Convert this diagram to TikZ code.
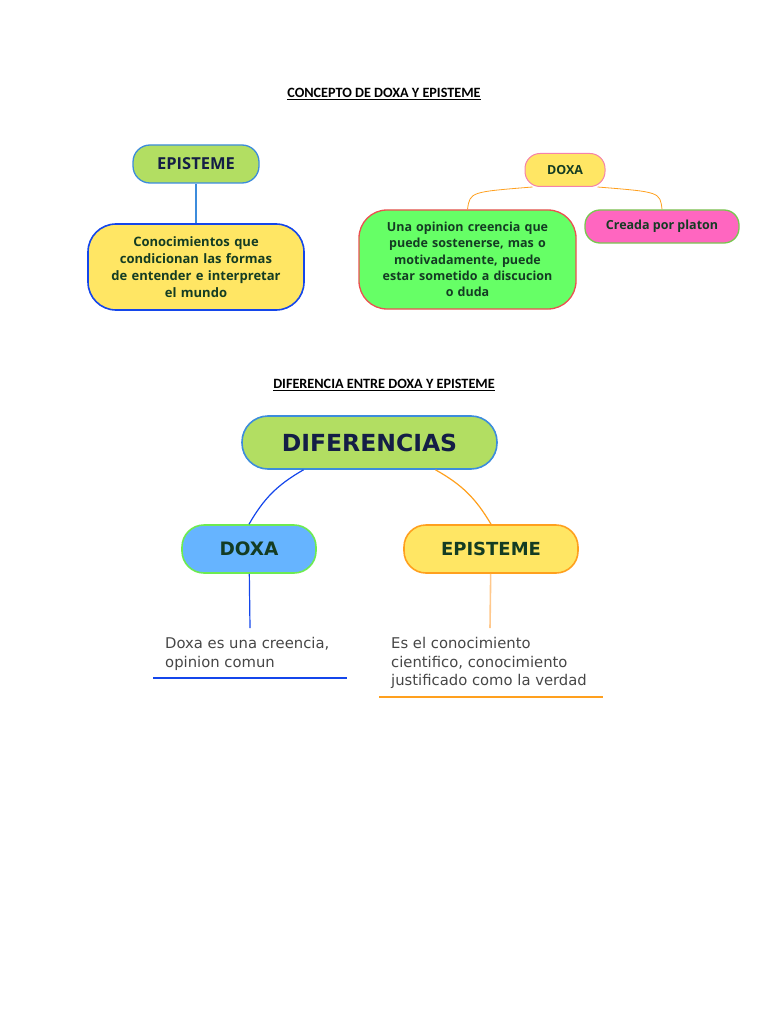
\documentclass[tikz,border=0pt]{standalone}
\usepackage{fontspec}
\setmainfont{Open Sans}
\newfontfamily\titlefont{Carlito}
\newfontfamily\widefont{DejaVu Sans}
\usetikzlibrary{positioning}
\definecolor{leafgreen}{RGB}{178,222,98}
\definecolor{sunyellow}{RGB}{255,230,100}
\definecolor{limegreen}{RGB}{102,255,102}
\definecolor{hotpink}{RGB}{255,102,192}
\definecolor{skyblue}{RGB}{102,180,255}
\definecolor{edgeblue}{RGB}{60,140,220}
\definecolor{deepblue}{RGB}{20,70,235}
\definecolor{rosered}{RGB}{235,80,80}
\definecolor{pinkline}{RGB}{245,130,170}
\definecolor{grassline}{RGB}{120,200,80}
\definecolor{brightgreen}{RGB}{110,235,80}
\definecolor{orangeline}{RGB}{255,160,30}
\definecolor{paleorange}{RGB}{255,200,140}
\definecolor{inknavy}{RGB}{20,30,70}
\definecolor{inkgreen}{RGB}{20,60,35}
\definecolor{inkgray}{RGB}{70,70,70}

\begin{document}
\begin{tikzpicture}[x=1pt,y=-1pt,
  box/.style={draw,line width=1.3pt,align=center,inner sep=0pt,font=\bfseries},
  title/.style={font=\titlefont\bfseries\fontsize{14.2}{16}\selectfont},
  note/.style={anchor=north west,align=left,inner sep=0pt,text=inkgray,
    font=\widefont\fontsize{14.8}{18.6}\selectfont}]
\useasboundingbox (0,0) rectangle (768,1024);

\node[title] (t1) at (384,94) {\underline{CONCEPTO DE DOXA Y EPISTEME}};
\node[box,fill=leafgreen,draw=edgeblue,minimum width=126pt,minimum height=38pt,
  rounded corners=17pt,text=inknavy,font=\bfseries\fontsize{16.5}{18}\selectfont] (epi) at (196,164) {EPISTEME};
\node[box,fill=sunyellow,draw=deepblue,line width=1.6pt,minimum width=216pt,minimum height=86pt,
  rounded corners=28pt,text=inkgreen,text width=200pt,font=\bfseries\fontsize{13}{17}\selectfont] (know) at (196,267)
  {Conocimientos que\\condicionan las formas\\de entender e interpretar\\el mundo};
\draw[edgeblue,line width=1.2pt] (epi) -- (know);

\node[box,fill=sunyellow,draw=pinkline,line width=1pt,minimum width=80pt,minimum height=33pt,
  rounded corners=15pt,text=inkgreen,font=\bfseries\fontsize{12.5}{14}\selectfont] (doxa) at (565,170) {DOXA};
\node[box,fill=limegreen,draw=rosered,minimum width=217pt,minimum height=99pt,
  rounded corners=28pt,text=inkgreen,text width=200pt,font=\bfseries\fontsize{12.5}{16.3}\selectfont] (opin) at (467.5,259.5)
  {Una opinion creencia que\\puede sostenerse, mas o\\motivadamente, puede\\estar sometido a discucion\\o duda};
\node[box,fill=hotpink,draw=grassline,minimum width=154pt,minimum height=33pt,
  rounded corners=15pt,text=inkgreen,font=\bfseries\fontsize{12.5}{15}\selectfont] (plat) at (662,226.5) {Creada por platon};
\draw[orangeline,line width=0.8pt] (doxa.south west) ++(8,0) coordinate (dl)
  (dl) .. controls (470,192) .. (opin.north);
\draw[orangeline,line width=0.8pt] (doxa.south east) ++(-8,0) coordinate (dr)
  (dr) .. controls (660,192) .. (plat.north);

\node[title] (t2) at (384,385) {\underline{DIFERENCIA ENTRE DOXA Y EPISTEME}};
\node[box,fill=leafgreen,draw=edgeblue,line width=1.6pt,minimum width=255pt,minimum height=53pt,
  rounded corners=26pt,text=inknavy,font=\widefont\bfseries\fontsize{23.5}{26}\selectfont] (dif) at (369.5,442.5) {DIFERENCIAS};
\node[box,fill=skyblue,draw=brightgreen,line width=1.6pt,minimum width=134pt,minimum height=48pt,
  rounded corners=22pt,text=inkgreen,font=\widefont\bfseries\fontsize{18.5}{20}\selectfont] (dx) at (249,549) {DOXA};
\node[box,fill=sunyellow,draw=orangeline,line width=1.6pt,minimum width=174pt,minimum height=48pt,
  rounded corners=22pt,text=inkgreen,font=\widefont\bfseries\fontsize{18}{20}\selectfont] (ep) at (491,549) {EPISTEME};
\draw[deepblue,line width=1.2pt] (dif.south) ++(-66,0) coordinate (fl)
  (fl) to[bend right=15] (dx.north);
\draw[orangeline,line width=1.2pt] (dif.south) ++(66,0) coordinate (fr)
  (fr) to[bend left=15] (ep.north);

\node[note] (dxt) at (165,637) {Doxa es una creencia,\\opinion comun};
\node[note] (ept) at (391,637) {Es el conocimiento\\cientifico, conocimiento\\justificado como la verdad};
\coordinate (dxend) at (250,628);
\coordinate (epend) at (490,628);
\draw[deepblue,line width=1.2pt] (dx) -- (dxend);
\draw[paleorange,line width=1.6pt] (ep) -- (epend);
\coordinate (ul1) at (153,678);
\coordinate (ur1) at (347,678);
\coordinate (ul2) at (379,697);
\coordinate (ur2) at (603,697);
\draw[deepblue,line width=2pt] (ul1) -- (ur1);
\draw[orangeline,line width=2.5pt] (ul2) -- (ur2);
\end{tikzpicture}
\end{document}
